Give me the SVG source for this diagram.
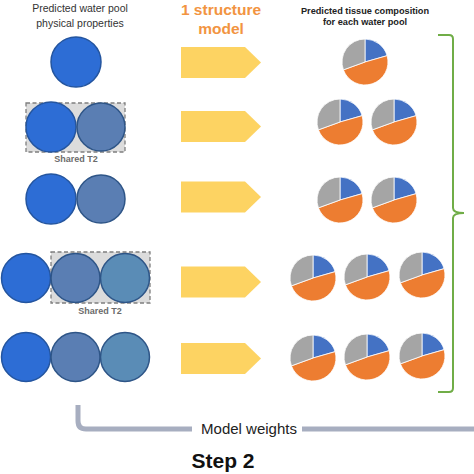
<svg xmlns="http://www.w3.org/2000/svg" xmlns:xlink="http://www.w3.org/1999/xlink" width="474" height="474" viewBox="0 0 474 474">
<style>
.hd{font-family:"Liberation Sans",Arial,sans-serif;font-size:10.5px;fill:#333;text-anchor:middle}
.hd2{font-family:"Liberation Sans",Arial,sans-serif;font-size:9.2px;font-weight:bold;fill:#222;text-anchor:middle}
.org{font-family:"Liberation Sans",Arial,sans-serif;font-size:15.5px;font-weight:bold;fill:#F29441;text-anchor:middle}
.sh{font-family:"Liberation Sans",Arial,sans-serif;font-size:9px;font-weight:bold;fill:#6b6b6b;text-anchor:middle}
.c1{fill:#2D6DD5;stroke:#24559F;stroke-width:1.5}
.c2{fill:#5A7EB3;stroke:#2E5587;stroke-width:1.5}
.c3{fill:#5A8CB6;stroke:#2E5587;stroke-width:1.5}
.box{fill:#DCDCDC;stroke:#7F7F7F;stroke-width:1.3;stroke-dasharray:4,2.5}
.arr{fill:#FDD362}
.brace{fill:none;stroke:#70AD47;stroke-width:2}
.gl{fill:none;stroke:#A7AEC0;stroke-width:5}
</style>
<defs>
<g id="pie">
<path d="M0,0 L0,-23 A23,23 0 0 1 22.11,-6.34 Z" fill="#4472C4" stroke="#fff" stroke-width="0.8"/>
<path d="M0,0 L22.11,-6.34 A23,23 0 0 1 -21.61,7.87 Z" fill="#ED7D31" stroke="#fff" stroke-width="0.8"/>
<path d="M0,0 L-21.61,7.87 A23,23 0 0 1 0,-23 Z" fill="#A5A5A5" stroke="#fff" stroke-width="0.8"/>
</g>
<path id="arrow" d="M0,-15.5 L64,-15.5 L80,0 L64,15.5 L0,15.5 Z"/>
</defs>

<g id="headers">
<text class="hd" x="80" y="12">Predicted water pool</text>
<text class="hd" x="80" y="27">physical properties</text>
<text class="org" x="221" y="15">1 structure</text>
<text class="org" x="221" y="34">model</text>
<text class="hd2" x="365" y="14">Predicted tissue composition</text>
<text class="hd2" x="365" y="25">for each water pool</text>
</g>

<g id="row1">
<circle class="c1" cx="76" cy="62" r="25"/>
</g>
<g id="row2">
<rect class="box" x="26" y="103" width="99" height="49"/>
<circle class="c1" cx="51" cy="127" r="25"/>
<circle class="c2" cx="101" cy="127" r="24"/>
<text class="sh" x="76" y="162">Shared T2</text>
</g>
<g id="row3">
<circle class="c1" cx="51" cy="199" r="25"/>
<circle class="c2" cx="101" cy="199" r="24"/>
</g>
<g id="row4">
<rect class="box" x="51" y="252" width="99" height="51"/>
<circle class="c1" cx="26" cy="278" r="24.5"/>
<circle class="c2" cx="75.5" cy="278" r="24.5"/>
<circle class="c3" cx="125" cy="278" r="24.5"/>
<text class="sh" x="100" y="314">Shared T2</text>
</g>
<g id="row5">
<circle class="c1" cx="26" cy="357" r="24.5"/>
<circle class="c2" cx="75.5" cy="357" r="24.5"/>
<circle class="c3" cx="125" cy="357" r="24.5"/>
</g>

<g id="arrows">
<use href="#arrow" class="arr" x="181" y="62.5"/>
<use href="#arrow" class="arr" x="181" y="126.5"/>
<use href="#arrow" class="arr" x="181" y="197"/>
<use href="#arrow" class="arr" x="181" y="282"/>
<use href="#arrow" class="arr" x="181" y="358.5"/>
</g>

<g id="pies1"><use href="#pie" x="365" y="62"/></g>
<g id="pies2"><use href="#pie" x="340" y="122"/><use href="#pie" x="394" y="122"/></g>
<g id="pies3"><use href="#pie" x="340" y="200"/><use href="#pie" x="394" y="200"/></g>
<g id="pies4"><use href="#pie" x="313" y="278"/><use href="#pie" x="367" y="277"/><use href="#pie" x="422" y="275"/></g>
<g id="pies5"><use href="#pie" x="313" y="358"/><use href="#pie" x="367" y="357"/><use href="#pie" x="422" y="356"/></g>

<g id="connectors">
<path class="brace" d="M438,35 L449,35 Q453,35 453,39 L453,208 Q453,213 464,213 Q453,213 453,218 L453,388 Q453,392 449,392 L438,392"/>
<path class="gl" d="M78,405 L78,421 Q78,429 86,429 L192,429"/>
<path class="gl" d="M302,429 L474,429"/>
</g>

<g id="labels">
<text x="249" y="434" font-family="Liberation Sans, Arial, sans-serif" font-size="15" fill="#222" text-anchor="middle">Model weights</text>
<text x="223" y="468" font-family="Liberation Sans, Arial, sans-serif" font-size="21" font-weight="bold" fill="#111" text-anchor="middle">Step 2</text>
</g>
</svg>
